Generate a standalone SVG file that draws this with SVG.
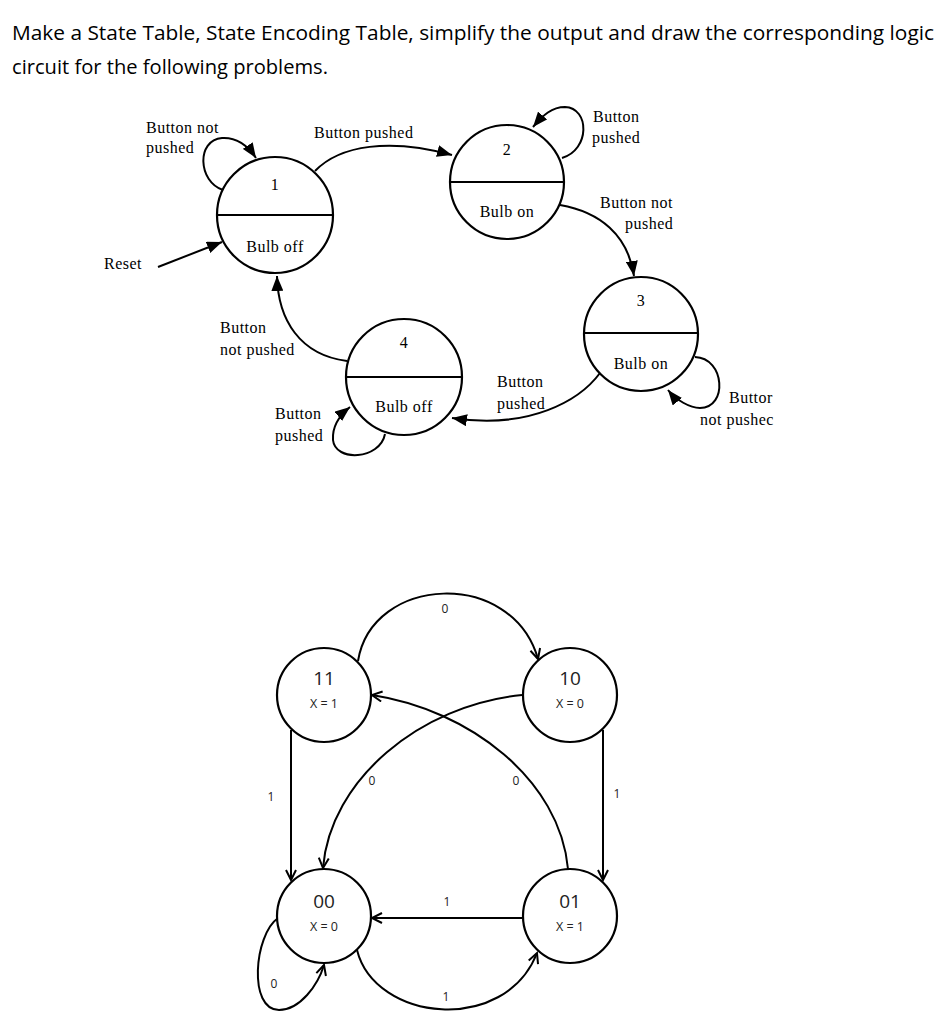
<svg xmlns="http://www.w3.org/2000/svg" width="948" height="1024" viewBox="0 0 948 1024">
<defs>
<style>
.title{font-family:"Open Sans","Liberation Sans",sans-serif;font-size:19.5px;fill:#000}
.ser{font-family:"Liberation Serif","DejaVu Serif",serif;font-size:16px;letter-spacing:0.5px;fill:#000}
.st{fill:#fff;stroke:#000;stroke-width:2.2}
.div{stroke:#000;stroke-width:2.2}
.e1{fill:none;stroke:#000;stroke-width:2}
.e2{fill:none;stroke:#000;stroke-width:2}
.big{font-family:"Open Sans","Liberation Sans",sans-serif;font-size:19px;fill:#222;text-anchor:middle}
.sm{font-family:"Open Sans","Liberation Sans",sans-serif;font-size:12.5px;fill:#222;text-anchor:middle}
.lab{font-family:"Open Sans","Liberation Sans",sans-serif;font-size:12px;fill:#222;text-anchor:middle}
</style>
<marker id="fa" markerUnits="userSpaceOnUse" markerWidth="16" markerHeight="12" refX="15" refY="6" orient="auto">
<path d="M0,0 L15,6 L0,12 z" fill="#000"/>
</marker>
<marker id="oa" markerUnits="userSpaceOnUse" markerWidth="14" markerHeight="14" refX="11" refY="6" orient="auto">
<path d="M1,1 L11,6 L1,11" fill="none" stroke="#000" stroke-width="2"/>
</marker>
</defs>
<rect width="948" height="1024" fill="#fff"/>
<text class="title" x="12" y="40" textLength="922" lengthAdjust="spacingAndGlyphs">Make a State Table, State Encoding Table, simplify the output and draw the corresponding logic</text>
<text class="title" x="12" y="74" textLength="316" lengthAdjust="spacingAndGlyphs">circuit for the following problems.</text>

<g id="connectors-top">
<path class="e1" d="M223 190 C198 182 196 140 222 138 C238 137 248 146 256 158" marker-end="url(#fa)"/>
<path class="e1" d="M315 171 C340 145 390 138 452 155" marker-end="url(#fa)"/>
<path class="e1" d="M562 158 C590 150 590 108 565 107 C552 107 543 115 533 127" marker-end="url(#fa)"/>
<path class="e1" d="M560 205 C600 212 628 235 634 276" marker-end="url(#fa)"/>
<path class="e1" d="M600 373 C580 400 530 430 452 418" marker-end="url(#fa)"/>
<path class="e1" d="M695 357 C725 358 728 408 700 408 C690 408 676 400 668 390" marker-end="url(#fa)"/>
<path class="e1" d="M347 361 C300 355 278 320 277 276" marker-end="url(#fa)"/>
<path class="e1" d="M385 434 C380 460 335 462 333 440 C332 425 340 415 350 407" marker-end="url(#fa)"/>
<path class="e1" d="M158 267 L222 242" marker-end="url(#fa)"/>
</g>

<g id="state1">
<circle class="st" cx="275" cy="215" r="58"/>
<line class="div" x1="217" y1="215" x2="333" y2="215"/>
<text class="ser" x="275" y="190" text-anchor="middle">1</text>
<text class="ser" x="275" y="252" text-anchor="middle">Bulb off</text>
</g>
<g id="state2">
<circle class="st" cx="507" cy="182" r="57"/>
<line class="div" x1="450" y1="182" x2="564" y2="182"/>
<text class="ser" x="507" y="155" text-anchor="middle">2</text>
<text class="ser" x="507" y="217" text-anchor="middle">Bulb on</text>
</g>
<g id="state3">
<circle class="st" cx="641" cy="334" r="57"/>
<line class="div" x1="584" y1="333" x2="698" y2="333"/>
<text class="ser" x="641" y="306" text-anchor="middle">3</text>
<text class="ser" x="641" y="369" text-anchor="middle">Bulb on</text>
</g>
<g id="state4">
<circle class="st" cx="404" cy="377" r="58"/>
<line class="div" x1="346" y1="377" x2="462" y2="377"/>
<text class="ser" x="404" y="348" text-anchor="middle">4</text>
<text class="ser" x="404" y="412" text-anchor="middle">Bulb off</text>
</g>

<g id="labels-top">
<text class="ser" x="146" y="133">Button not</text>
<text class="ser" x="146" y="153">pushed</text>
<text class="ser" x="314" y="138">Button pushed</text>
<text class="ser" x="593" y="122">Button</text>
<text class="ser" x="592" y="143">pushed</text>
<text class="ser" x="600" y="208">Button not</text>
<text class="ser" x="625" y="229">pushed</text>
<text class="ser" x="104" y="269">Reset</text>
<text class="ser" x="220" y="333">Button</text>
<text class="ser" x="220" y="355">not pushed</text>
<text class="ser" x="275" y="419">Button</text>
<text class="ser" x="275" y="441">pushed</text>
<text class="ser" x="497" y="387">Button</text>
<text class="ser" x="497" y="409">pushed</text>
<text class="ser" x="729" y="403">Buttor</text>
<text class="ser" x="700" y="425">not pushec</text>
</g>

<g id="connectors-bottom">
<path class="e2" d="M358 661 C372 575 512 568 538 659" marker-end="url(#oa)"/>
<path class="e2" d="M522 695 C420 705 330 780 323 868" marker-end="url(#oa)"/>
<path class="e2" d="M568 869 C560 780 470 710 372 695" marker-end="url(#oa)"/>
<path class="e2" d="M291 730 L291 880" marker-end="url(#oa)"/>
<path class="e2" d="M603 730 L603 880" marker-end="url(#oa)"/>
<path class="e2" d="M522 918 L372 918" marker-end="url(#oa)"/>
<path class="e2" d="M357 950 C375 1022 505 1035 537 953" marker-end="url(#oa)"/>
<path class="e2" d="M278 918 C254 935 248 1010 279 1010 C300 1010 318 985 324 965" marker-end="url(#oa)"/>
</g>

<g id="n11">
<circle class="st" cx="324" cy="695" r="47"/>
<text class="big" x="324" y="685">11</text>
<text class="sm" x="324" y="708">X = 1</text>
</g>
<g id="n10">
<circle class="st" cx="570" cy="695" r="47"/>
<text class="big" x="570" y="685">10</text>
<text class="sm" x="570" y="708">X = 0</text>
</g>
<g id="n00">
<circle class="st" cx="324" cy="916" r="47"/>
<text class="big" x="324" y="908">00</text>
<text class="sm" x="324" y="931">X = 0</text>
</g>
<g id="n01">
<circle class="st" cx="570" cy="916" r="47"/>
<text class="big" x="570" y="908">01</text>
<text class="sm" x="570" y="931">X = 1</text>
</g>

<g id="labels-bottom">
<text class="lab" x="445" y="613">0</text>
<text class="lab" x="372" y="785">0</text>
<text class="lab" x="516" y="785">0</text>
<text class="lab" x="271" y="801">1</text>
<text class="lab" x="617" y="798">1</text>
<text class="lab" x="447" y="906">1</text>
<text class="lab" x="446" y="1001">1</text>
<text class="lab" x="274" y="988">0</text>
</g>
</svg>
